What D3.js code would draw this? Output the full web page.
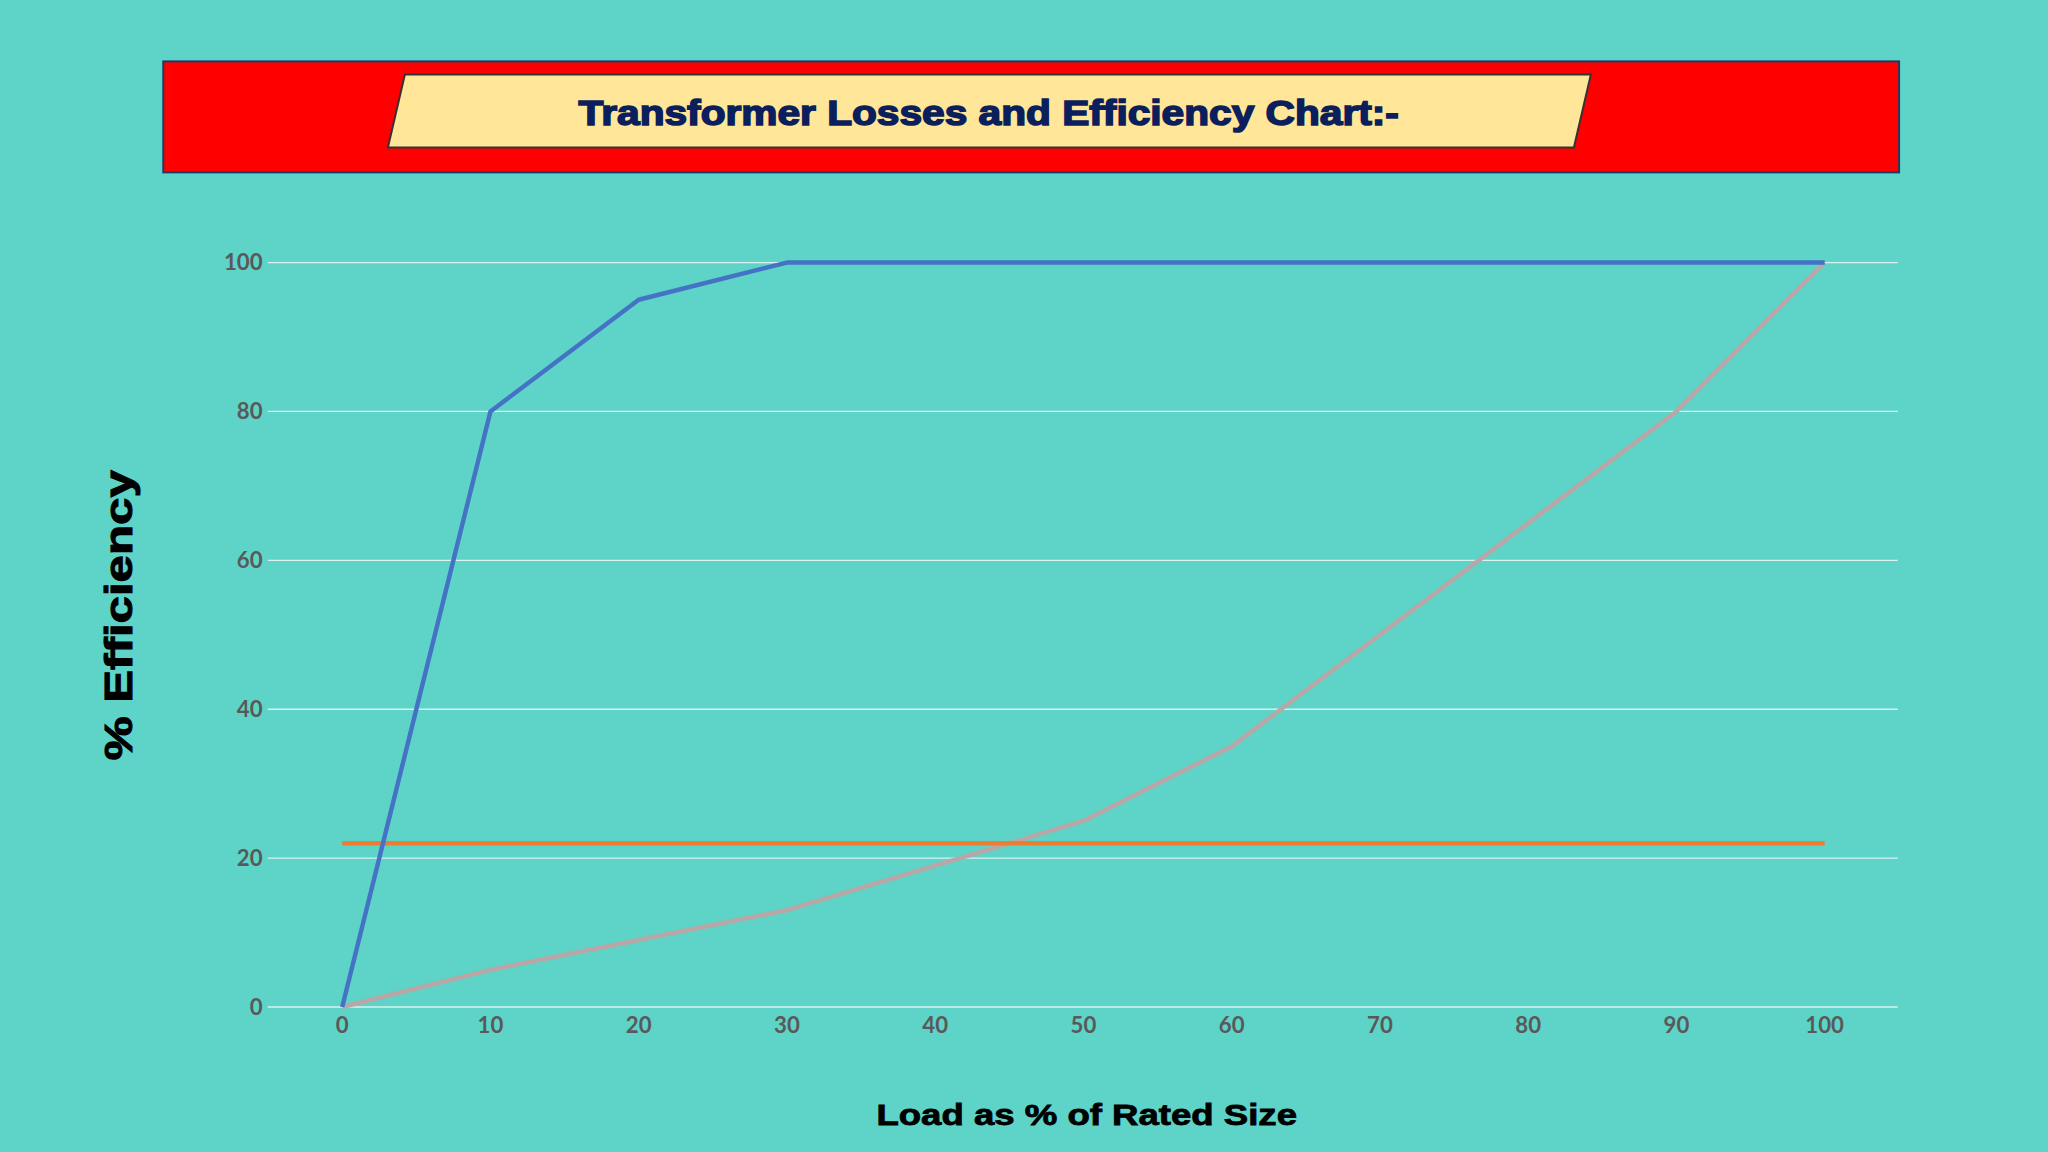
<!DOCTYPE html><html><head><meta charset="utf-8">
<script src="https://cdn.jsdelivr.net/npm/d3@7"></script>
<style>html,body{margin:0;padding:0;background:#5ed3c8;}svg{display:block}</style></head><body>
<svg id="c" width="2048" height="1152" viewBox="0 0 1568 882"></svg>
<script>
const loads=[0,10,20,30,40,50,60,70,80,90,100];
const efficiency=[0,80,95,100,100,100,100,100,100,100,100];
const fixedLoss=[22,22,22,22,22,22,22,22,22,22,22];
const copperLoss=[0,5,9,13,19,25,35,50,65,80,100];
const yTicks=[0,20,40,60,80,100];
const svg=d3.select("#c");
svg.append("rect").attr("width",1568).attr("height",882).attr("fill","#5ed3c8");
svg.append("rect").attr("x",125).attr("y",47).attr("width",1329).attr("height",85).attr("fill","#ff0000").attr("stroke","#1f3864").attr("stroke-width",1.5);
svg.append("path").attr("d","M310,57L1218,57L1205,113L297,113Z").attr("fill","#ffe699").attr("stroke","#333").attr("stroke-width",1.5);
svg.append("text").attr("x",757).attr("y",96).attr("text-anchor","middle").attr("font-family","Liberation Sans, Arial").attr("font-weight","900").attr("font-size",27).attr("fill","#0b1f5c").attr("stroke","#0b1f5c").attr("stroke-width",1.2)
  .attr("textLength",628).attr("lengthAdjust","spacingAndGlyphs").text("Transformer Losses and Efficiency Chart:-");
const x=d3.scaleLinear().domain([0,100]).range([262,1397]);
const y=d3.scaleLinear().domain([0,100]).range([771,201]);
svg.append("g").selectAll("line").data(yTicks).join("line").attr("x1",205).attr("x2",1453).attr("y1",d=>y(d)).attr("y2",d=>y(d)).attr("stroke","#d9f2ef").attr("stroke-width",1);
svg.append("g").selectAll("text").data(yTicks).join("text").attr("x",201).attr("y",d=>y(d)+6).attr("text-anchor","end").attr("font-family","Lato").attr("font-weight","bold").attr("font-size",17).attr("fill","#595959").text(d=>d);
svg.append("g").selectAll("text").data(loads).join("text").attr("x",d=>x(d)).attr("y",791).attr("text-anchor","middle").attr("font-family","Lato").attr("font-weight","bold").attr("font-size",17).attr("fill","#595959").text(d=>d);
const line=d3.line().x((d,i)=>x(loads[i])).y(d=>y(d));
[[copperLoss,"#b9a6a6"],[fixedLoss,"#ed7d31"],[efficiency,"#4472c4"]].forEach(([s,c])=>svg.append("path").attr("d",line(s)).attr("fill","none").attr("stroke",c).attr("stroke-width",3.4).attr("stroke-linejoin","round"));
svg.append("text").attr("x",832).attr("y",861).attr("text-anchor","middle").attr("font-family","Liberation Sans, Arial").attr("font-weight","bold").attr("font-size",22).attr("fill","#000").attr("stroke","#000").attr("stroke-width",0.6)
  .attr("textLength",322).attr("lengthAdjust","spacingAndGlyphs").text("Load as % of Rated Size");
svg.append("text").attr("transform","translate(101,471) rotate(-90)").attr("text-anchor","middle").attr("font-family","Liberation Sans, Arial").attr("font-weight","bold").attr("font-size",30).attr("fill","#000").attr("stroke","#000").attr("stroke-width",0.8)
  .attr("textLength",222).attr("lengthAdjust","spacingAndGlyphs").text("% Efficiency");
</script></body></html>
